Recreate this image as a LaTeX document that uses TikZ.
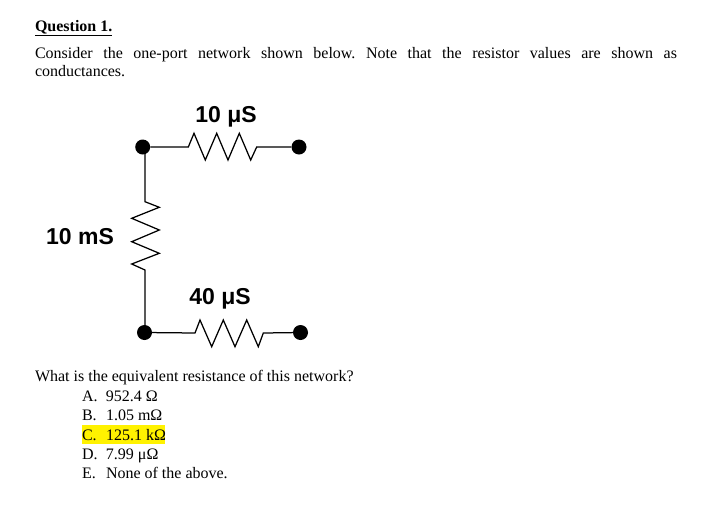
\documentclass[tikz,border=0pt]{standalone}
\usepackage{fontspec}
\setmainfont{Liberation Serif}
\newfontfamily\labelfont{Liberation Sans}
\newcommand{\opt}[2]{\makebox[24pt][l]{#1}#2}
\tikzset{
  x=1pt,y=-1pt,
  txt/.style={anchor=base west,inner sep=0pt,outer sep=0pt,font=\fontsize{16}{18}\selectfont},
  val/.style={inner sep=0pt,font=\labelfont\bfseries\fontsize{23}{26}\selectfont},
  term/.style={circle,fill=black,draw=none,minimum size=15pt,inner sep=0pt},
  wire/.style={draw=black,line width=1.25pt,line join=miter}
}
\begin{document}
\frenchspacing
\begin{tikzpicture}
\useasboundingbox (0,0) rectangle (718,504);
\fill[white] (0,0) rectangle (718,504);
% text
\node[txt,font=\fontsize{16}{18}\selectfont\bfseries] (title) at (35,31) {\underline{Question 1.}};
\node[txt] (l1) at (35,58) {\makebox[642pt][s]{Consider the one-port network shown below. Note that the resistor values are shown as}};
\node[txt] (l2) at (35,76) {conductances.};
\node[txt] (q) at (35,381) {What is the equivalent resistance of this network?};
\node[txt] (a) at (82,401) {\opt{A.}{952.4 Ω}};
\node[txt] (b) at (82,420) {\opt{B.}{1.05 mΩ}};
\fill[yellow] (81.7,424.5) rectangle (165.3,444);
\node[txt] (c) at (82,440) {\opt{C.}{125.1 kΩ}};
\node[txt] (d) at (82,459) {\opt{D.}{7.99 μΩ}};
\node[txt] (e) at (82,478) {\opt{E.}{None of the above.}};
% circuit
\node[term] (tl) at (142.7,147) {};
\node[term] (tr) at (299,147) {};
\node[term] (bl) at (144.5,332.5) {};
\node[term] (br) at (300.5,332.5) {};
\coordinate (j1) at (145,147);
\coordinate (j2) at (145,332.5);
\draw[wire] (tl) -- (188.3,147) -- (194,133.3) -- (205.3,160) -- (216.7,133.3) -- (228,160) -- (239.3,133.3) -- (250.7,160) -- (256.7,147) -- (tr);
\draw[wire] (j1) -- (145,201.7) -- (159.3,207.3) -- (131.7,218.3) -- (159.3,230) -- (131.7,241.7) -- (159.3,253.3) -- (131.7,264) -- (145,270) -- (j2);
\draw[wire] (bl) -- (195,333) -- (200,320) -- (211.7,346.7) -- (223.3,320) -- (235,346.7) -- (246.7,320) -- (258.3,346.7) -- (263.3,333) -- (br);
\node[val] (g1) at (226,117) {10 μS};
\node[val] (g2) at (80,237) {10 mS};
\node[val] (g3) at (220,299) {40 μS};
\end{tikzpicture}
\end{document}
